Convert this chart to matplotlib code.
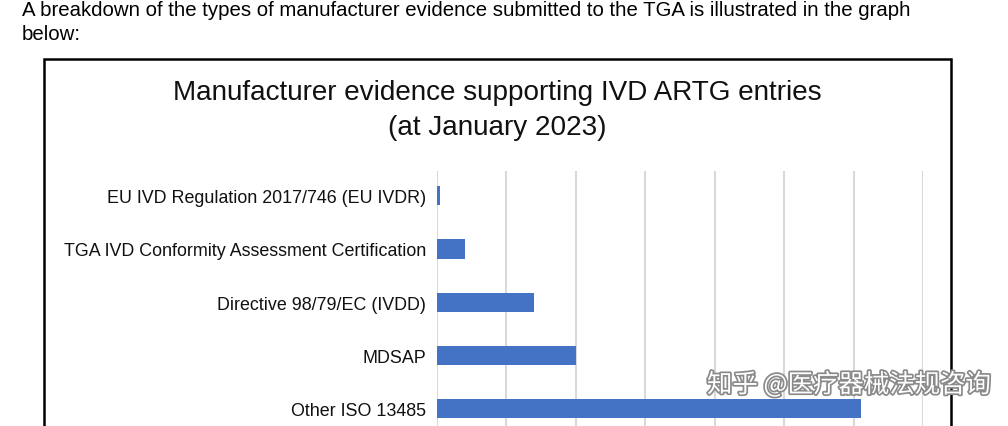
import matplotlib
matplotlib.use('Agg')
import matplotlib.pyplot as plt
import matplotlib.patches as patches
import matplotlib.patheffects as pe

# Data (axis units guessed: one gridline = 500)
categories = ['EU IVD Regulation 2017/746 (EU IVDR)',
              'TGA IVD Conformity Assessment Certification',
              'Directive 98/79/EC (IVDD)',
              'MDSAP',
              'Other ISO 13485']
values = [25, 200, 700, 1000, 3050]
grid_ticks = [0, 500, 1000, 1500, 2000, 2500, 3000, 3500]

plt.rcParams['font.family'] = ['Liberation Sans', 'DejaVu Sans']

fig = plt.figure(figsize=(10.08, 4.27), dpi=100)
W, H = 1008, 427

def fx(px):
    return px / W

def fy(py):
    return 1 - py / H

# Intro sentence above the chart
fig.text(fx(22), fy(10), 'A breakdown of the types of manufacturer evidence submitted to the TGA is illustrated in the graph',
         fontsize=14.7, va='center', ha='left', color='#000000')
fig.text(fx(22), fy(34), 'below:', fontsize=14.7, va='center', ha='left', color='#000000')

# Chart frame (cut off at the bottom)
frame = patches.Rectangle((fx(44), fy(460)), fx(951) - fx(44), fy(60) - fy(460),
                          transform=fig.transFigure, fill=False, edgecolor='black',
                          linewidth=1.8, clip_on=False)
fig.patches.append(frame)

fig.text(fx(497), fy(93), 'Manufacturer evidence supporting IVD ARTG entries',
         fontsize=20.1, ha='center', va='center', color='#111111')
fig.text(fx(497), fy(128), '(at January 2023)',
         fontsize=20.1, ha='center', va='center', color='#111111')

# Axes: top at y=172, bottom goes past the image
top_px, bot_px = 172, 441
ax = fig.add_axes([fx(437), fy(bot_px), fx(923) - fx(437), (bot_px - top_px) / H])
y = list(range(len(categories)))
ax.barh(y, values, height=0.36, color='#4472C4', zorder=3)
ax.set_xlim(0, 3500)
ax.set_ylim(4.6, -0.47)
ax.set_xticks(grid_ticks)
ax.set_xticklabels([])
ax.tick_params(axis='x', length=0)
ax.set_yticks(y)
ax.set_yticklabels(categories, fontsize=12.9, color='#111111')
ax.tick_params(axis='y', length=0, pad=8)
ax.grid(axis='x', color='#d9d9d9', linewidth=1.5, zorder=0)
for s in ax.spines.values():
    s.set_visible(False)

# Watermark
fig.text(fx(707), fy(386), '知乎 @医疗器械法规咨询', fontsize=18.3, ha='left', va='center',
         color='white', family=['Noto Sans CJK SC', 'DejaVu Sans'],
         path_effects=[pe.withStroke(linewidth=2.5, foreground='#8a8a8a')], zorder=10)

fig.savefig('out.png', dpi=100)
